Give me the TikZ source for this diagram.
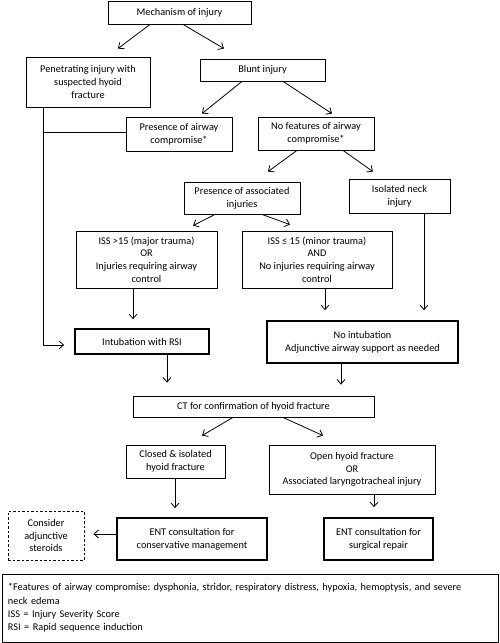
\documentclass[tikz,border=0pt]{standalone}
\usepackage{fontspec}
\setmainfont{Carlito}
\usetikzlibrary{arrows.meta,calc}
\begin{document}
\frenchspacing
\begin{tikzpicture}[x=1pt,y=-1pt,
  box/.style={draw, line width=0.8pt, align=center, inner sep=0pt, font=\fontsize{10.3}{12.8}\selectfont},
  boldbox/.style={box, line width=1.7pt},
  dashbox/.style={box, dashed, dash pattern=on 2.5pt off 2pt},
  arr/.style={line width=0.8pt, -{Straight Barb[length=4.5pt,width=8pt]}},
  ln/.style={line width=0.8pt}
]
\useasboundingbox (0,0) rectangle (500,643);

\node[box, minimum width=143pt, minimum height=23pt] (mech) at (179.5,12.5) {Mechanism of injury};
\node[box, minimum width=124pt, minimum height=50pt] (pen) at (88,82) {Penetrating injury with\\suspected hyoid\\fracture};
\node[box, minimum width=125pt, minimum height=22pt] (blunt) at (262.5,70) {Blunt injury};
\node[box, minimum width=106pt, minimum height=34pt] (pres) at (179,134) {Presence of airway\\compromise*};
\node[box, minimum width=116pt, minimum height=33pt] (nofeat) at (316,133.5) {No features of airway\\compromise*};
\node[box, minimum width=116pt, minimum height=32pt] (assoc) at (242,198) {Presence of associated\\injuries};
\node[box, minimum width=101pt, minimum height=34pt] (iso) at (399.5,196) {Isolated neck\\injury};
\node[box, minimum width=141pt, minimum height=57pt] (major) at (146.5,259.5) {ISS >15 (major trauma)\\OR\\Injuries requiring airway\\control};
\node[box, minimum width=150pt, minimum height=57pt] (minor) at (317,259.5) {ISS ≤ 15 (minor trauma)\\AND\\No injuries requiring airway\\control};
\node[boldbox, minimum width=134pt, minimum height=25pt] (intub) at (142,341.5) {Intubation with RSI};
\node[boldbox, minimum width=191pt, minimum height=42pt] (noint) at (362.5,342) {No intubation\\Adjunctive airway support as needed};
\node[box, minimum width=241pt, minimum height=21pt] (ct) at (253.5,406.5) {CT for confirmation of hyoid fracture};
\node[box, minimum width=99pt, minimum height=33pt] (closed) at (175.5,461.5) {Closed \& isolated\\hyoid fracture};
\node[box, minimum width=166pt, minimum height=49pt] (open) at (352,469.5) {Open hyoid fracture\\OR\\Associated laryngotracheal injury};
\node[boldbox, minimum width=150pt, minimum height=42pt] (entc) at (192,539) {ENT consultation for\\conservative management};
\node[boldbox, minimum width=109pt, minimum height=42pt] (ents) at (378.5,539) {ENT consultation for\\surgical repair};
\node[dashbox, minimum width=76pt, minimum height=49pt] (cons) at (46,535.5) {Consider\\adjunctive\\steroids};
\node[box, minimum width=496pt, minimum height=68pt, align=left, text width=484pt, font=\fontsize{10.3}{13.3}\selectfont] (foot) at (250,608) {*Features of airway compromise: dysphonia, stridor, respiratory distress, hypoxia, hemoptysis, and severe\\neck edema\\ISS = Injury Severity Score\\RSI = Rapid sequence induction};

\draw[arr] ($(mech.south)+(-29.5,0)$) -- ($(pen.north)+(30,-8)$);
\draw[arr] ($(mech.south)+(3.5,0)$) -- ($(blunt.north)+(-38.5,-10)$);
\draw[arr] ($(blunt.south)+(-20.5,0)$) -- ($(pres.north)+(23,-3)$);
\draw[arr] ($(blunt.south)+(20.5,0)$) -- ($(nofeat.north)+(16,-3)$);
\draw[arr] ($(nofeat.south)+(-19,0)$) -- ($(assoc.north)+(26,-10)$);
\draw[arr] ($(nofeat.south)+(27,0)$) -- ($(iso.north)+(-26.5,-7)$);
\draw[arr] ($(assoc.south)+(-27,0)$) -- ($(major.north)+(46.5,-5)$);
\draw[arr] ($(assoc.south)+(20,0)$) -- ($(minor.north)+(-27,-6)$);
\draw[arr] ($(major.south)+(-13.5,0)$) -- ($(intub.north)+(-9,-9)$);
\draw[arr] ($(minor.south)+(8,0)$) -- ($(noint.north)+(-37.5,-10)$);
\draw[arr] ($(iso.south)+(24.5,0)$) -- ($(noint.north)+(61.5,-10)$);
\coordinate (pl) at ($(pen.south)+(-45,0)$);
\draw[arr] (pl) |- ($(intub.west)+(-10,3.5)$);
\draw[ln] ($(pres.west)+(0,-2)$) -- (pl |- {$(pres.west)+(0,-2)$});
\draw[arr] ($(intub.south)+(25,0)$) -- ($(ct.north)+(-86.5,-13)$);
\draw[arr] ($(noint.south)+(-21.5,0)$) -- ($(ct.north)+(87.5,-11)$);
\draw[arr] ($(ct.south)+(-20.5,0)$) -- ($(closed.north)+(26.5,-9)$);
\draw[arr] ($(ct.south)+(29.5,0)$) -- ($(open.north)+(-29,-9)$);
\draw[arr] ($(closed.south)+(-0.5,0)$) -- ($(entc.north)+(-17,-9)$);
\draw[arr] ($(open.south)+(22,0)$) -- ($(ents.north)+(-4.5,-10)$);
\draw[arr] ($(entc.west)+(0,-5)$) -- ($(cons.east)+(9,-1.5)$);
\end{tikzpicture}
\end{document}
